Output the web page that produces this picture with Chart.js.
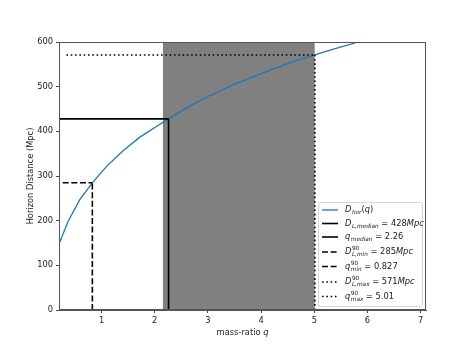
<!DOCTYPE html>
<html lang="en">
<head>
    <meta charset="UTF-8">
    <title>Horizon Distance vs mass-ratio</title>
    <style>
        body {
            margin: 0;
            background-color: #ffffff;
        }
        #wrap {
            width: 474px;
            height: 355px;
            position: relative;
        }
    </style>
</head>
<body>
    <div id="wrap">
        <canvas id="horizonChart" width="474" height="355"></canvas>
    </div>

    <script src="https://cdn.jsdelivr.net/npm/chart.js"></script>

    <script>
        // curve D_hor(q)
        const qValues = [0.2, 0.37, 0.59, 0.83, 1.09, 1.41, 1.72, 2.03, 2.26, 2.66, 3.0, 3.47, 4.0, 4.48, 5.01, 5.36, 5.83, 6.5, 7.1];
        const dHor = [148, 198, 247, 285, 321, 357, 387, 411, 428, 457, 478, 504, 529, 551, 571, 584, 600, 622, 640];

        // summary values
        const dMedian = 428, qMedian = 2.26;
        const dMin = 285, qMin = 0.827;
        const dMax = 571, qMax = 5.01;
        const bandLow = 2.15, bandHigh = 5.01;
        const hLineStart = [0.2, 0.27, 0.34]; // solid, dashed, dotted

        const xTicks = [1, 2, 3, 4, 5, 6, 7];
        const yTicks = [0, 100, 200, 300, 400, 500, 600];
        const xRange = [0.2, 7.1];
        const yRange = [0, 600];

        const FONT = "'DejaVu Sans', sans-serif";
        const FS = 8.3;
        const DASHED = [6, 2.6];
        const DOTTED = [1.6, 2.7];

        function pts(xs, ys) {
            return xs.map((x, i) => ({ x: x, y: ys[i] }));
        }

        // legend entries with math-style pieces
        const legendItems = [
            { kind: 'blue', parts: [{ t: 'D', it: true, sub: 'hor' }, { t: '(' }, { t: 'q', it: true }, { t: ')' }] },
            { kind: 'solid', parts: [{ t: 'D', it: true, sub: 'L,median' }, { t: ' = 428' }, { t: 'Mpc', it: true }] },
            { kind: 'solid', parts: [{ t: 'q', it: true, sub: 'median' }, { t: ' = 2.26' }] },
            { kind: 'dashed', parts: [{ t: 'D', it: true, sub: 'L,min', sup: '90' }, { t: ' = 285' }, { t: 'Mpc', it: true }] },
            { kind: 'dashed', parts: [{ t: 'q', it: true, sub: 'min', sup: '90' }, { t: ' = 0.827' }] },
            { kind: 'dotted', parts: [{ t: 'D', it: true, sub: 'L,max', sup: '90' }, { t: ' = 571' }, { t: 'Mpc', it: true }] },
            { kind: 'dotted', parts: [{ t: 'q', it: true, sub: 'max', sup: '90' }, { t: ' = 5.01' }] }
        ];
        const legendRowY = [210, 223.5, 237, 252, 266.5, 282, 296.5];

        function drawRich(ctx, x, y, parts, size) {
            const small = size * 0.7;
            parts.forEach((p) => {
                ctx.font = (p.it ? 'italic ' : '') + size + 'px ' + FONT;
                ctx.fillText(p.t, x, y);
                x += ctx.measureText(p.t).width;
                let adv = 0;
                if (p.sup) {
                    ctx.font = small + 'px ' + FONT;
                    ctx.fillText(p.sup, x + 0.5, y - size * 0.4);
                    adv = Math.max(adv, ctx.measureText(p.sup).width + 0.5);
                }
                if (p.sub) {
                    ctx.font = 'italic ' + small + 'px ' + FONT;
                    ctx.fillText(p.sub, x + 0.5, y + size * 0.32);
                    adv = Math.max(adv, ctx.measureText(p.sub).width + 0.5);
                }
                x += adv;
            });
        }

        const framePlugin = {
            id: 'frame',
            afterDatasetsDraw(chart) {
                const a = chart.chartArea;
                const ctx = chart.ctx;
                ctx.save();
                ctx.strokeStyle = '#555';
                ctx.lineWidth = 1;
                ctx.strokeRect(a.left + 0.5, a.top + 0.5, a.right - a.left - 1, a.bottom - a.top - 1);
                ctx.restore();
            }
        };

        // x title with an italic q
        const xTitlePlugin = {
            id: 'xTitle',
            afterDraw(chart) {
                const ctx = chart.ctx;
                const a = chart.chartArea;
                ctx.save();
                ctx.fillStyle = '#222';
                ctx.textBaseline = 'middle';
                ctx.font = FS + 'px ' + FONT;
                const w1 = ctx.measureText('mass-ratio ').width;
                ctx.font = 'italic ' + FS + 'px ' + FONT;
                const w2 = ctx.measureText('q').width;
                let x = (a.left + a.right) / 2 - (w1 + w2) / 2;
                ctx.font = FS + 'px ' + FONT;
                ctx.fillText('mass-ratio ', x, 333);
                ctx.font = 'italic ' + FS + 'px ' + FONT;
                ctx.fillText('q', x + w1, 333);
                ctx.restore();
            }
        };

        const legendPlugin = {
            id: 'mathLegend',
            afterDraw(chart) {
                const ctx = chart.ctx;
                ctx.save();
                const bx = 318, by = 202, bw = 104, bh = 104;
                ctx.beginPath();
                ctx.roundRect(bx + 0.5, by + 0.5, bw, bh, 2);
                ctx.fillStyle = 'rgba(255,255,255,0.85)';
                ctx.fill();
                ctx.strokeStyle = '#d6d6d6';
                ctx.lineWidth = 1;
                ctx.stroke();

                legendItems.forEach((item, i) => {
                    const y = legendRowY[i];
                    ctx.beginPath();
                    ctx.moveTo(322, y);
                    ctx.lineTo(338, y);
                    if (item.kind === 'blue') {
                        ctx.strokeStyle = '#1f77b4';
                        ctx.lineWidth = 1.3;
                        ctx.setLineDash([]);
                    } else {
                        ctx.strokeStyle = '#000';
                        ctx.lineWidth = 1.6;
                        ctx.setLineDash(item.kind === 'dashed' ? DASHED : item.kind === 'dotted' ? DOTTED : []);
                    }
                    ctx.stroke();
                    ctx.setLineDash([]);
                    ctx.fillStyle = '#222';
                    ctx.textBaseline = 'middle';
                    drawRich(ctx, 345, y, item.parts, FS);
                });
                ctx.restore();
            }
        };

        const ctx = document.getElementById('horizonChart').getContext('2d');
        const horizonChart = new Chart(ctx, {
            type: 'line',
            data: {
                datasets: [
                    {
                        label: 'band',
                        data: pts([bandLow, bandHigh], [yRange[1], yRange[1]]),
                        borderWidth: 0,
                        pointRadius: 0,
                        backgroundColor: '#808080',
                        fill: 'origin',
                        order: 10
                    },
                    {
                        label: 'D_hor(q)',
                        data: pts(qValues, dHor),
                        borderColor: '#1f77b4',
                        borderWidth: 1.3,
                        pointRadius: 0,
                        fill: false,
                        tension: 0,
                        order: 5
                    },
                    {
                        label: 'D median',
                        data: pts([hLineStart[0], qMedian], [dMedian, dMedian]),
                        borderColor: '#000', borderWidth: 1.6, pointRadius: 0, fill: false, order: 4
                    },
                    {
                        label: 'q median',
                        data: pts([qMedian, qMedian], [0, dMedian]),
                        borderColor: '#000', borderWidth: 1.6, pointRadius: 0, fill: false, order: 4
                    },
                    {
                        label: 'D min',
                        data: pts([hLineStart[1], qMin], [dMin, dMin]),
                        borderColor: '#000', borderWidth: 1.6, borderDash: DASHED, pointRadius: 0, fill: false, order: 3
                    },
                    {
                        label: 'q min',
                        data: pts([qMin, qMin], [0, dMin]),
                        borderColor: '#000', borderWidth: 1.6, borderDash: DASHED, pointRadius: 0, fill: false, order: 3
                    },
                    {
                        label: 'D max',
                        data: pts([hLineStart[2], qMax], [dMax, dMax]),
                        borderColor: '#000', borderWidth: 1.6, borderDash: DOTTED, pointRadius: 0, fill: false, order: 2
                    },
                    {
                        label: 'q max',
                        data: pts([qMax, qMax], [0, dMax]),
                        borderColor: '#000', borderWidth: 1.6, borderDash: DOTTED, pointRadius: 0, fill: false, order: 2
                    }
                ]
            },
            options: {
                responsive: false,
                animation: false,
                layout: {
                    padding: { left: 26, right: 48, top: 42, bottom: 17 }
                },
                plugins: {
                    legend: { display: false },
                    tooltip: { enabled: false }
                },
                scales: {
                    x: {
                        type: 'linear',
                        min: xRange[0],
                        max: xRange[1],
                        afterBuildTicks: (scale) => {
                            scale.ticks = xTicks.map((v) => ({ value: v }));
                        },
                        afterFit: (scale) => { scale.height = 28; },
                        grid: { drawOnChartArea: false, drawTicks: true, tickLength: 3, color: '#444' },
                        border: { display: true, color: '#555' },
                        ticks: { color: '#222', padding: 3, font: { family: FONT, size: FS }, maxRotation: 0 },
                        title: { display: false }
                    },
                    y: {
                        type: 'linear',
                        min: yRange[0],
                        max: yRange[1],
                        afterBuildTicks: (scale) => {
                            scale.ticks = yTicks.map((v) => ({ value: v }));
                        },
                        afterFit: (scale) => { scale.width = 33; },
                        grid: { drawOnChartArea: false, drawTicks: true, tickLength: 3, color: '#444' },
                        border: { display: true, color: '#555' },
                        ticks: { color: '#222', padding: 3, font: { family: FONT, size: FS } },
                        title: {
                            display: true,
                            text: 'Horizon Distance (Mpc)',
                            color: '#222',
                            padding: 0,
                            font: { family: FONT, size: FS }
                        }
                    }
                }
            },
            plugins: [framePlugin, xTitlePlugin, legendPlugin]
        });
    </script>
</body>
</html>
